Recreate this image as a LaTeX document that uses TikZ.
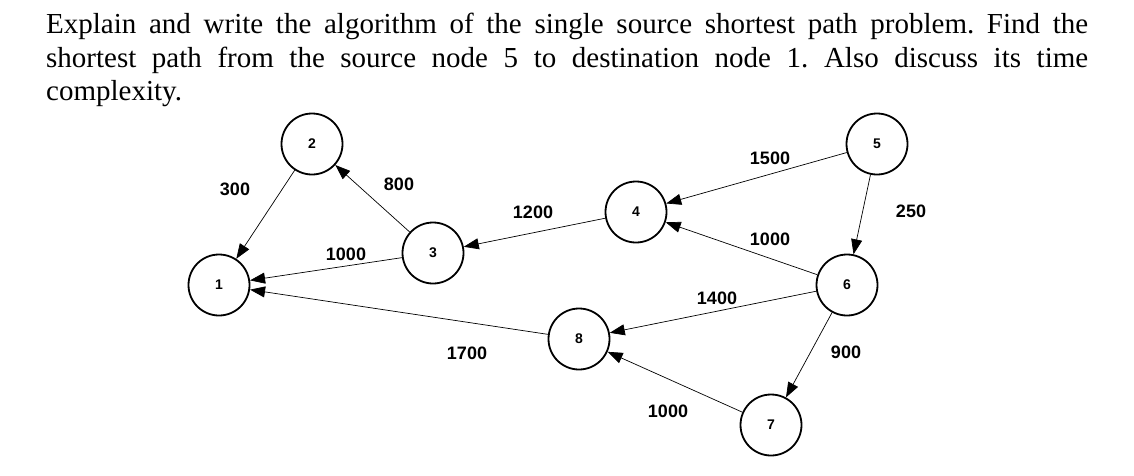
\documentclass[tikz,border=0pt]{standalone}
\usepackage{fontspec}
\setmainfont{Liberation Serif}
\newfontfamily\arialf{Liberation Sans}
\usetikzlibrary{arrows.meta}
\frenchspacing
\begin{document}
\begin{tikzpicture}[x=1pt,y=-1pt,
  vert/.style={circle,draw,line width=1.8pt,minimum size=61pt,inner sep=0pt,font=\arialf\bfseries\fontsize{14}{16}\selectfont},
  edge/.style={line width=0.7pt,-{Triangle[length=15pt,width=11pt]}},
  wlab/.style={inner sep=0pt,font=\arialf\bfseries\fontsize{18}{20}\selectfont},
  title/.style={inner sep=0pt,anchor=base west,font=\fontsize{29}{33}\selectfont}]
\useasboundingbox (0,0) rectangle (1134,475);
\node[title] (t1) at (46,33) {\makebox[1042pt][s]{Explain and write the algorithm of the single source shortest path problem. Find the}};
\node[title] (t2) at (46,67) {\makebox[1042pt][s]{shortest path from the source node 5 to destination node 1. Also discuss its time}};
\node[title] (t3) at (46,100) {complexity.};
\node[vert] (n2) at (312,144) {2};
\node[vert] (n1) at (219,285) {1};
\node[vert] (n3) at (433,253) {3};
\node[vert] (n4) at (636,212) {4};
\node[vert] (n5) at (877,144) {5};
\node[vert] (n6) at (847,285) {6};
\node[vert] (n8) at (579,339) {8};
\node[vert] (n7) at (771,425) {7};
\draw[edge] (n2) -- (n1);
\draw[edge] (n3) -- (n2);
\draw[edge] (n3) -- (n1);
\draw[edge] (n4) -- (n3);
\draw[edge] (n5) -- (n4);
\draw[edge] (n5) -- (n6);
\draw[edge] (n6) -- (n4);
\draw[edge] (n6) -- (n8);
\draw[edge] (n6) -- (n7);
\draw[edge] (n7) -- (n8);
\draw[edge] (n8) -- (n1);
\node[wlab] (w21) at (235,189) {300};
\node[wlab] (w32) at (399,184) {800};
\node[wlab] (w31) at (346,254) {1000};
\node[wlab] (w43) at (533,212) {1200};
\node[wlab] (w54) at (770,158) {1500};
\node[wlab] (w56) at (911,211) {250};
\node[wlab] (w64) at (770,239) {1000};
\node[wlab] (w68) at (717,298) {1400};
\node[wlab] (w81) at (467,353) {1700};
\node[wlab] (w67) at (846,352) {900};
\node[wlab] (w78) at (668,411) {1000};
\end{tikzpicture}
\end{document}
